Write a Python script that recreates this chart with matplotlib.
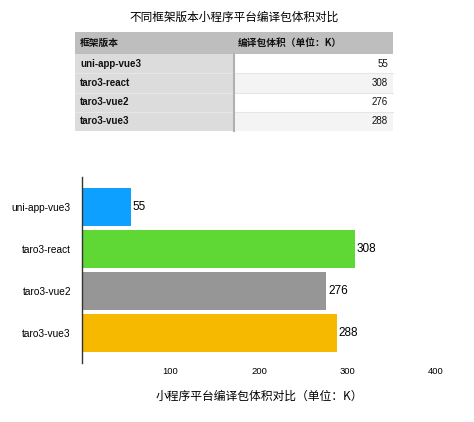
import matplotlib
matplotlib.use("Agg")
import matplotlib.pyplot as plt
from matplotlib.patches import Rectangle

plt.rcParams['font.family'] = ['Liberation Sans', 'Noto Sans CJK SC', 'DejaVu Sans']

title = "不同框架版本小程序平台编译包体积对比"
col_headers = ["框架版本", "编译包体积（单位：K）"]
categories = ["uni-app-vue3", "taro3-react", "taro3-vue2", "taro3-vue3"]
values = [55, 308, 276, 288]
colors = ["#0ea0ff", "#5fd835", "#969696", "#f7b900"]
xticks = [100, 200, 300, 400]
xlabel = "小程序平台编译包体积对比（单位：K）"

W, H = 474, 422
fig = plt.figure(figsize=(W / 100, H / 100), dpi=100)

# ---- table layer (pixel coordinates) ----
tab = fig.add_axes([0, 0, 1, 1])
tab.set_xlim(0, W)
tab.set_ylim(H, 0)
tab.axis('off')

tab.text(234, 17, title, ha='center', va='center', fontsize=8.4,
         family=['Noto Sans CJK SC', 'DejaVu Sans'])

x0, xm, x1 = 75, 234, 393
ytop, yh = 32, 54
row_h = (131 - 54) / len(categories)
tab.add_patch(Rectangle((x0, ytop), x1 - x0, yh - ytop, color="#bebebe", lw=0))
tab.text(x0 + 5, (ytop + yh) / 2, col_headers[0], ha='left', va='center',
         fontsize=7, fontweight='bold', family=['Noto Sans CJK SC'], color="#111")
tab.text(xm + 4, (ytop + yh) / 2, col_headers[1], ha='left', va='center',
         fontsize=7, fontweight='bold', family=['Noto Sans CJK SC'], color="#111")
for i, (c, v) in enumerate(zip(categories, values)):
    yt = yh + i * row_h
    tab.add_patch(Rectangle((x0, yt), xm - x0, row_h, color="#dcdcdc", lw=0))
    tab.add_patch(Rectangle((xm, yt), x1 - xm, row_h,
                            color="#ffffff" if i % 2 == 0 else "#f4f4f4", lw=0))
    if i > 0:
        tab.plot([x0, x1], [yt, yt], color="#e6e6e6", lw=0.8)
    tab.text(x0 + 5, yt + row_h / 2, c, ha='left', va='center', fontsize=7,
             fontweight='bold', color="#111")
    tab.text(x1 - 5, yt + row_h / 2, str(v), ha='right', va='center',
             fontsize=7, color="#111")
tab.plot([xm, xm], [yh, yh + row_h * len(categories)], color="#b0b0b0", lw=1.5)

# ---- bar chart ----
left, right, top, bottom = 82, 436, 177, 363
ax = fig.add_axes([left / W, 1 - bottom / H, (right - left) / W, (bottom - top) / H])
ypos = list(range(len(categories)))
bars = ax.barh(ypos, values, height=0.9, color=colors)
ax.set_ylim(len(categories) - 0.3, -0.7)
ax.set_xlim(0, 400)
ax.set_yticks(ypos)
ax.set_yticklabels(categories, fontsize=7.3)
ax.set_xticks(xticks)
ax.set_xticklabels([str(t) for t in xticks], fontsize=6.8)
ax.tick_params(length=0)
ax.tick_params(axis='x', pad=3)
ax.tick_params(axis='y', pad=8)
for s in ['top', 'right', 'bottom']:
    ax.spines[s].set_visible(False)
ax.spines['left'].set_color('#333')
ax.spines['left'].set_linewidth(1)
for b, v in zip(bars, values):
    ax.text(b.get_width() + 2, b.get_y() + b.get_height() / 2, str(v),
            ha='left', va='center', fontsize=8.5)
ax.set_xlabel(xlabel, fontsize=8.5, labelpad=10,
              family=['Noto Sans CJK SC', 'DejaVu Sans'])

fig.savefig("out.png", dpi=100)
